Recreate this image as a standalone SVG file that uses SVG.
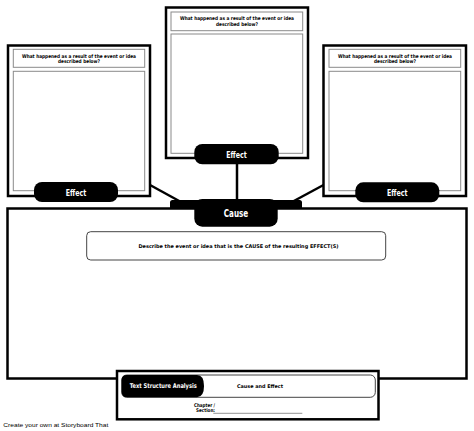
<svg xmlns="http://www.w3.org/2000/svg" width="474" height="431" viewBox="0 0 474 431">
<style>
.outer{fill:#fff;stroke:#000;stroke-width:2.5}
.inner{fill:#fff;stroke:#8a8a8a;stroke-width:1}
.pill{fill:#000}
.lbl{font-family:"DejaVu Sans Condensed","Liberation Sans",sans-serif;font-weight:bold;fill:#fff;text-anchor:middle}
.hd{font-family:"DejaVu Sans Condensed","Liberation Sans",sans-serif;font-weight:bold;fill:#000;text-anchor:middle;font-size:5px}
.conn{stroke:#000;stroke-width:2.5;fill:none}
</style>
<rect width="474" height="431" fill="#fff"/>
<g id="connectors">
<line class="conn" x1="237" y1="164" x2="237" y2="201"/>
<line class="conn" x1="150" y1="185" x2="181" y2="202"/>
<line class="conn" x1="323.5" y1="185" x2="292" y2="202"/>
</g>
<g id="effect-left">
<rect class="outer" x="8" y="45.5" width="142" height="150.5"/>
<rect class="inner" x="13.3" y="49.3" width="131.4" height="18"/>
<text class="hd" x="79" y="57.6" textLength="114" lengthAdjust="spacingAndGlyphs">What happened as a result of the event or idea</text>
<text class="hd" x="79" y="63.3" textLength="42" lengthAdjust="spacingAndGlyphs">described below?</text>
<rect class="inner" x="13.3" y="71.3" width="131.4" height="119.4"/>
<rect class="pill" x="34" y="182" width="84" height="20" rx="8"/>
<text class="lbl" x="76" y="195.5" font-size="9.5" textLength="20.5" lengthAdjust="spacingAndGlyphs">Effect</text>
</g>
<g id="effect-center">
<rect class="outer" x="166" y="7.5" width="142" height="150.5"/>
<rect class="inner" x="171" y="12" width="131.7" height="18.7"/>
<text class="hd" x="237" y="20" textLength="114" lengthAdjust="spacingAndGlyphs">What happened as a result of the event or idea</text>
<text class="hd" x="237" y="26" textLength="42" lengthAdjust="spacingAndGlyphs">described below?</text>
<rect class="inner" x="171" y="34" width="131.7" height="119.3"/>
<rect class="pill" x="194.3" y="144" width="84.4" height="20.3" rx="8"/>
<text class="lbl" x="236.5" y="157.6" font-size="9.5" textLength="20.5" lengthAdjust="spacingAndGlyphs">Effect</text>
</g>
<g id="effect-right">
<rect class="outer" x="323.5" y="45.5" width="142.5" height="150.5"/>
<rect class="inner" x="329" y="49.3" width="131.7" height="18"/>
<text class="hd" x="395" y="57.6" textLength="114" lengthAdjust="spacingAndGlyphs">What happened as a result of the event or idea</text>
<text class="hd" x="395" y="63.3" textLength="42" lengthAdjust="spacingAndGlyphs">described below?</text>
<rect class="inner" x="329" y="71.3" width="131.7" height="119.4"/>
<rect class="pill" x="355.3" y="182.3" width="84" height="20" rx="8"/>
<text class="lbl" x="397.3" y="195.8" font-size="9.5" textLength="20.5" lengthAdjust="spacingAndGlyphs">Effect</text>
</g>
<g id="cause">
<rect class="pill" x="170" y="200" width="132" height="10" rx="2.5"/>
<rect class="outer" x="7.5" y="208.5" width="459" height="170"/>
<rect class="pill" x="194.3" y="199" width="83.4" height="27.7" rx="8"/>
<text class="lbl" x="236" y="217" font-size="10" textLength="24.5" lengthAdjust="spacingAndGlyphs">Cause</text>
<rect x="86.7" y="231.7" width="299" height="28.3" rx="4" fill="#fff" stroke="#444" stroke-width="1"/>
<text class="hd" x="238.5" y="247.8" font-size="6" textLength="200" lengthAdjust="spacingAndGlyphs">Describe the event or idea that is the CAUSE of the resulting EFFECT(S)</text>
</g>
<g id="title">
<rect class="outer" x="117" y="371" width="261.5" height="48.3"/>
<rect x="121.7" y="375" width="253.6" height="22.3" rx="5" fill="#fff" stroke="#444" stroke-width="1"/>
<path class="pill" d="M126.7 375 H197 Q204 375 204 386.1 Q204 397.3 197 397.3 H126.7 Q121.7 397.3 121.7 392.3 V380 Q121.7 375 126.7 375 Z"/>
<text class="lbl" x="163.3" y="388" font-size="6.5" textLength="67" lengthAdjust="spacingAndGlyphs">Text Structure Analysis</text>
<text class="hd" x="260" y="388" font-size="6.5" textLength="46" lengthAdjust="spacingAndGlyphs">Cause and Effect</text>
<text class="hd" x="215" y="406.6" font-size="4.8" text-anchor="end" style="text-anchor:end" textLength="21" lengthAdjust="spacingAndGlyphs">Chapter /</text>
<text class="hd" x="215" y="412.3" font-size="4.8" style="text-anchor:end" textLength="19" lengthAdjust="spacingAndGlyphs">Section:</text>
<line x1="213.3" y1="413.3" x2="302.3" y2="413.3" stroke="#777" stroke-width="0.8"/>
</g>
<text x="3.3" y="427" font-family="Liberation Sans, sans-serif" font-size="6" fill="#000" textLength="105" lengthAdjust="spacingAndGlyphs">Create your own at Storyboard That</text>
</svg>
